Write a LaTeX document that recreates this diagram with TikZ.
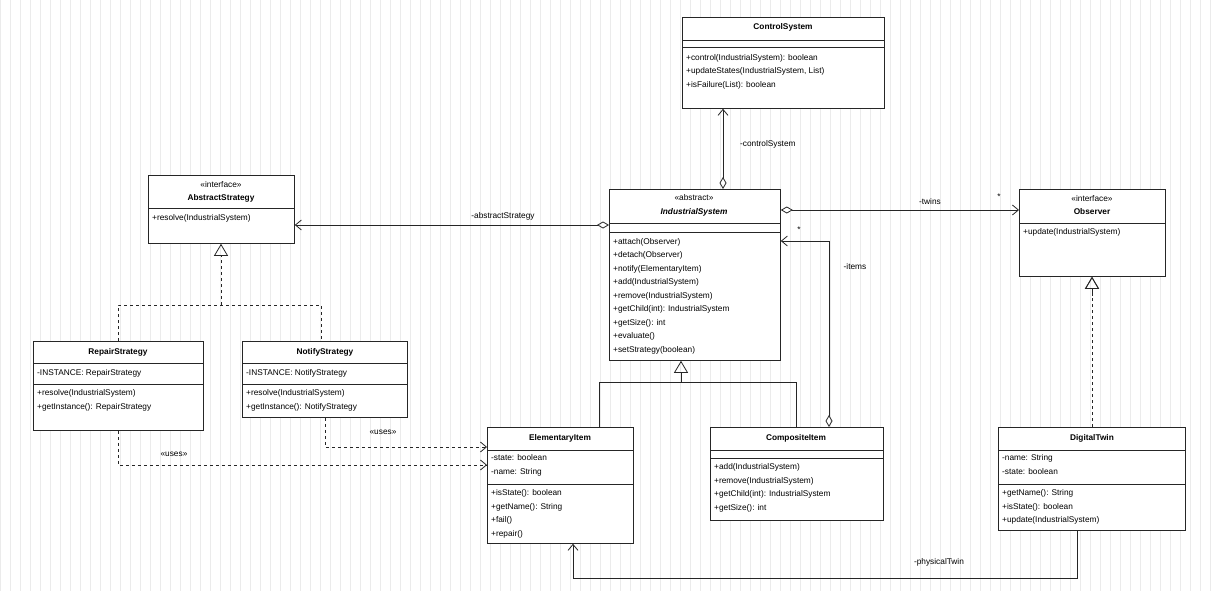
\documentclass[tikz,border=0pt]{standalone}
\usepackage{fontspec}
\setmainfont{Liberation Sans}
\usetikzlibrary{arrows.meta}
\begin{document}
\begin{tikzpicture}[x=1pt,y=-1pt,
  every node/.style={font=\fontsize{8.3}{10}\selectfont, inner sep=0pt},
  box/.style={draw=black!85, fill=white, line width=0.8pt, anchor=north west, minimum width=#1},
  t/.style={anchor=west},
  tt/.style={font=\fontsize{8.3}{10}\selectfont\bfseries},
  line/.style={draw=black!85, line width=0.8pt},
  assoc/.style={line, {Diamond[open,length=12pt,width=7pt]}-{Straight Barb[length=6pt,width=10pt]}},
  dep/.style={line, dashed, -{Straight Barb[length=6pt,width=10pt]}},
  real/.style={line, dashed, -{Triangle[open,length=12pt,width=14pt]}},
  gen/.style={line, -{Triangle[open,length=12pt,width=14pt]}}]
\useasboundingbox (0,0) rectangle (1213,591);
\fill[white] (0,0) rectangle (1213,591);
\draw[black!8, line width=0.4pt, step=10] (0,0) grid (1213,591);
\newcommand\ubox[5]{\node[box=#4-#2, minimum height=#5-#3] (#1) at (#2,#3) {};}
% ControlSystem
\ubox{cs}{682}{17}{884}{108}
\node[tt] (csn) at (783,27) {ControlSystem};
\draw[line] (682,40) -- (884,40) (682,47) -- (884,47);
\node[t] (cs1) at (686,58) {+control(IndustrialSystem): boolean};
\node[t] (cs2) at (686,71) {+updateStates(IndustrialSystem, List)};
\node[t] (cs3) at (686,85) {+isFailure(List): boolean};
% AbstractStrategy
\ubox{as}{148}{175}{294}{243}
\node (ass) at (221,185) {«interface»};
\node[tt] (asn) at (221,198) {AbstractStrategy};
\draw[line] (148,208) -- (294,208);
\node[t] (as1) at (152,218) {+resolve(IndustrialSystem)};
% IndustrialSystem
\ubox{is}{609}{189}{780}{360}
\node (iss) at (694,198) {«abstract»};
\node[tt, font=\fontsize{8.3}{10}\selectfont\bfseries\itshape] (isn) at (694,212) {IndustrialSystem};
\draw[line] (609,223) -- (780,223) (609,232) -- (780,232);
\foreach \s [count=\i from 0] in {+attach(Observer),+detach(Observer),+notify(ElementaryItem),+add(IndustrialSystem),+remove(IndustrialSystem),+getChild(int): IndustrialSystem,+getSize(): int,+evaluate(),+setStrategy(boolean)}
  \node[t] (is\i) at (613,242+13.5*\i) {\s};
% Observer
\ubox{ob}{1019}{189}{1165}{276}
\node (obs) at (1092,199) {«interface»};
\node[tt] (obn) at (1092,212) {Observer};
\draw[line] (1019,223) -- (1165,223);
\node[t] (ob1) at (1023,232) {+update(IndustrialSystem)};
% RepairStrategy
\ubox{rs}{33}{341}{203}{430}
\node[tt] (rsn) at (118,352) {RepairStrategy};
\draw[line] (33,363) -- (203,363) (33,384) -- (203,384);
\node[t] (rs1) at (37,373) {-INSTANCE: RepairStrategy};
\node[t] (rs2) at (37,393) {+resolve(IndustrialSystem)};
\node[t] (rs3) at (37,407) {+getInstance(): RepairStrategy};
% NotifyStrategy
\ubox{ns}{242}{341}{407}{417}
\node[tt] (nsn) at (325,352) {NotifyStrategy};
\draw[line] (242,363) -- (407,363) (242,384) -- (407,384);
\node[t] (ns1) at (246,373) {-INSTANCE: NotifyStrategy};
\node[t] (ns2) at (246,393) {+resolve(IndustrialSystem)};
\node[t] (ns3) at (246,407) {+getInstance(): NotifyStrategy};
% ElementaryItem
\ubox{ei}{487}{427}{633}{543}
\node[tt] (ein) at (560,438) {ElementaryItem};
\draw[line] (487,450) -- (633,450) (487,484) -- (633,484);
\node[t] (ei1) at (491,458) {-state: boolean};
\node[t] (ei2) at (491,472) {-name: String};
\node[t] (ei3) at (491,493) {+isState(): boolean};
\node[t] (ei4) at (491,507) {+getName(): String};
\node[t] (ei5) at (491,520) {+fail()};
\node[t] (ei6) at (491,534) {+repair()};
% CompositeItem
\ubox{ci}{710}{427}{883}{520}
\node[tt] (cin) at (796,438) {CompositeItem};
\draw[line] (710,450) -- (883,450) (710,458) -- (883,458);
\node[t] (ci1) at (714,467) {+add(IndustrialSystem)};
\node[t] (ci2) at (714,481) {+remove(IndustrialSystem)};
\node[t] (ci3) at (714,494) {+getChild(int): IndustrialSystem};
\node[t] (ci4) at (714,508) {+getSize(): int};
% DigitalTwin
\ubox{dt}{998}{427}{1185}{530}
\node[tt] (dtn) at (1092,438) {DigitalTwin};
\draw[line] (998,450) -- (1185,450) (998,484) -- (1185,484);
\node[t] (dt1) at (1002,458) {-name: String};
\node[t] (dt2) at (1002,472) {-state: boolean};
\node[t] (dt3) at (1002,493) {+getName(): String};
\node[t] (dt4) at (1002,507) {+isState(): boolean};
\node[t] (dt5) at (1002,520) {+update(IndustrialSystem)};
% connectors
\draw[assoc] (is.north -| 723,0) -- (cs.south -| 723,0);
\node[anchor=west] (lcs) at (740,144) {-controlSystem};
\draw[assoc] (is.west |- 0,225) -- (as.east |- 0,225);
\node (las) at (503,216) {-abstractStrategy};
\draw[assoc] (is.east |- 0,210) -- (ob.west |- 0,210);
\node (ltw) at (930,202) {-twins};
\node (lst1) at (999,197) {*};
\draw[assoc] (ci.north -| 829,0) -- (829,241) -- (is.east |- 0,241);
\node (lst2) at (799,230) {*};
\node (lit) at (855,267) {-items};
\coordinate (gj) at (681,382);
\draw[gen] (gj) -- (is.south -| gj);
\draw[line] (ei.north -| 599,0) -- (599,382) -- (796,382) -- (ci.north -| 796,0);
\coordinate (rj) at (221,305);
\draw[real] (rj) -- (as.south -| rj);
\draw[line, dashed] (rs.north -| 118,0) -- (118,305) -- (321,305) -- (ns.north -| 321,0);
\draw[real] (ob.south -| 1092,0) ++(0,0) coordinate (oj);
\draw[line, dashed] (dt.north -| 1092,0) -- (1092,296);
\draw[gen, dashed, solid] (1092,296) -- (ob.south -| 1092,0);
\draw[dep] (ns.south -| 325,0) -- (325,447) -- (ei.west |- 0,447);
\node (lu1) at (383,432) {«uses»};
\draw[dep] (rs.south -| 118,0) -- (118,465) -- (ei.west |- 0,465);
\node (lu2) at (174,454) {«uses»};
\draw[line, -{Straight Barb[length=6pt,width=10pt]}] (dt.south -| 1077,0) -- (1077,578) -- (573,578) -- (ei.south -| 573,0);
\node (lpt) at (939,562) {-physicalTwin};
\end{tikzpicture}
\end{document}
